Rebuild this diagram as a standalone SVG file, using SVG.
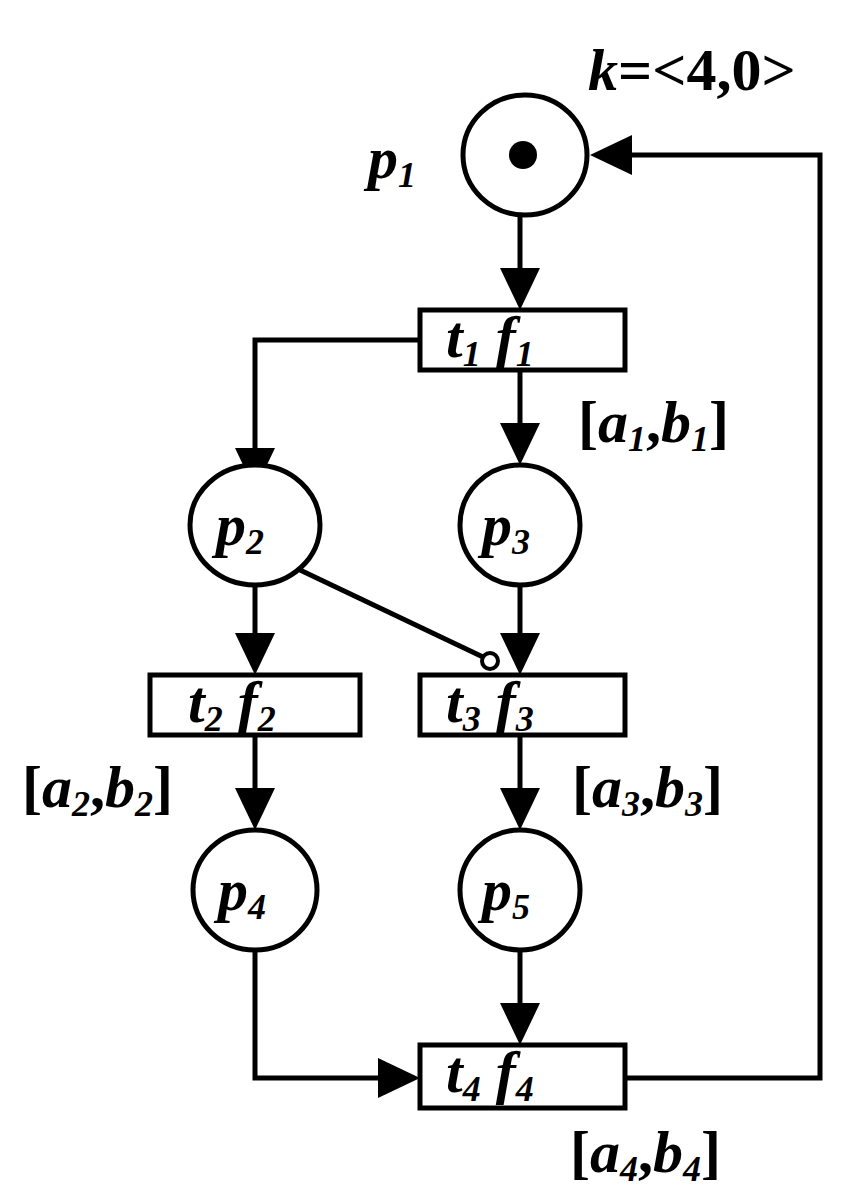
<svg xmlns="http://www.w3.org/2000/svg" width="855" height="1200" viewBox="0 0 855 1200">
<style>
.n{fill:#fff;stroke:#000;stroke-width:5}
.c{fill:none;stroke:#000;stroke-width:5}
.t{font-family:"Liberation Serif",serif;font-weight:bold;font-style:italic;font-size:60px;fill:#000}
.u{font-style:normal}
.s{font-size:36px}
</style>
<g id="connectors">
<path class="c" d="M520 215 V268"/><path d="M500 268 L540 268 L520 310 z"/>
<path class="c" d="M420 340 H255 V448"/><path d="M235 448 L275 448 L255 490 z"/>
<path class="c" d="M520 370 V423"/><path d="M500 423 L540 423 L520 465 z"/>
<path class="c" d="M255 585 V633"/><path d="M235 633 L275 633 L255 675 z"/>
<path class="c" d="M520 585 V633"/><path d="M500 633 L540 633 L520 675 z"/>
<path class="c" d="M300 570 L483 657"/><circle cx="490" cy="661" r="8" fill="#fff" stroke="#000" stroke-width="4"/>
<path class="c" d="M255 735 V788"/><path d="M235 788 L275 788 L255 830 z"/>
<path class="c" d="M520 735 V788"/><path d="M500 788 L540 788 L520 830 z"/>
<path class="c" d="M255 950 V1078 H378"/><path d="M378 1058 L378 1098 L420 1078 z"/>
<path class="c" d="M520 950 V1003"/><path d="M500 1003 L540 1003 L520 1045 z"/>
<path class="c" d="M625 1078 H820 V155 H632"/><path d="M632 135 L632 175 L590 155 z"/>
</g>
<g id="p1"><ellipse class="n" cx="525" cy="155" rx="62" ry="60"/><circle cx="523" cy="155" r="14"/>
<text class="t" x="368" y="178">p<tspan class="s" dy="9">1</tspan></text></g>
<text class="t" x="588" y="90">k<tspan class="u">=&lt;4,0&gt;</tspan></text>
<g id="t1"><rect class="n" x="420" y="310" width="205" height="60"/><text class="t" x="446" y="357">t<tspan class="s" dy="9">1</tspan><tspan dy="-9"> f</tspan><tspan class="s" dy="9">1</tspan></text></g>
<text class="t" x="578" y="442"><tspan class="u">[</tspan>a<tspan class="s" dy="9">1</tspan><tspan dy="-9" class="u">,</tspan>b<tspan class="s" dy="9">1</tspan><tspan dy="-9" class="u">]</tspan></text>
<g id="p2"><ellipse class="n" cx="255" cy="525" rx="65" ry="60"/><text class="t" x="216" y="545">p<tspan class="s" dy="9">2</tspan></text></g>
<g id="p3"><ellipse class="n" cx="520" cy="525" rx="60" ry="60"/><text class="t" x="482" y="545">p<tspan class="s" dy="9">3</tspan></text></g>
<g id="t2"><rect class="n" x="150" y="675" width="210" height="60"/><text class="t" x="188" y="722">t<tspan class="s" dy="9">2</tspan><tspan dy="-9"> f</tspan><tspan class="s" dy="9">2</tspan></text></g>
<g id="t3"><rect class="n" x="420" y="675" width="205" height="60"/><text class="t" x="446" y="722">t<tspan class="s" dy="9">3</tspan><tspan dy="-9"> f</tspan><tspan class="s" dy="9">3</tspan></text></g>
<text class="t" x="22" y="807"><tspan class="u">[</tspan>a<tspan class="s" dy="9">2</tspan><tspan dy="-9" class="u">,</tspan>b<tspan class="s" dy="9">2</tspan><tspan dy="-9" class="u">]</tspan></text>
<text class="t" x="572" y="807"><tspan class="u">[</tspan>a<tspan class="s" dy="9">3</tspan><tspan dy="-9" class="u">,</tspan>b<tspan class="s" dy="9">3</tspan><tspan dy="-9" class="u">]</tspan></text>
<g id="p4"><ellipse class="n" cx="255" cy="890" rx="62" ry="60"/><text class="t" x="218" y="910">p<tspan class="s" dy="9">4</tspan></text></g>
<g id="p5"><ellipse class="n" cx="520" cy="890" rx="60" ry="60"/><text class="t" x="482" y="910">p<tspan class="s" dy="9">5</tspan></text></g>
<g id="t4"><rect class="n" x="420" y="1045" width="205" height="63"/><text class="t" x="446" y="1092">t<tspan class="s" dy="9">4</tspan><tspan dy="-9"> f</tspan><tspan class="s" dy="9">4</tspan></text></g>
<text class="t" x="570" y="1172"><tspan class="u">[</tspan>a<tspan class="s" dy="9">4</tspan><tspan dy="-9" class="u">,</tspan>b<tspan class="s" dy="9">4</tspan><tspan dy="-9" class="u">]</tspan></text>
</svg>
